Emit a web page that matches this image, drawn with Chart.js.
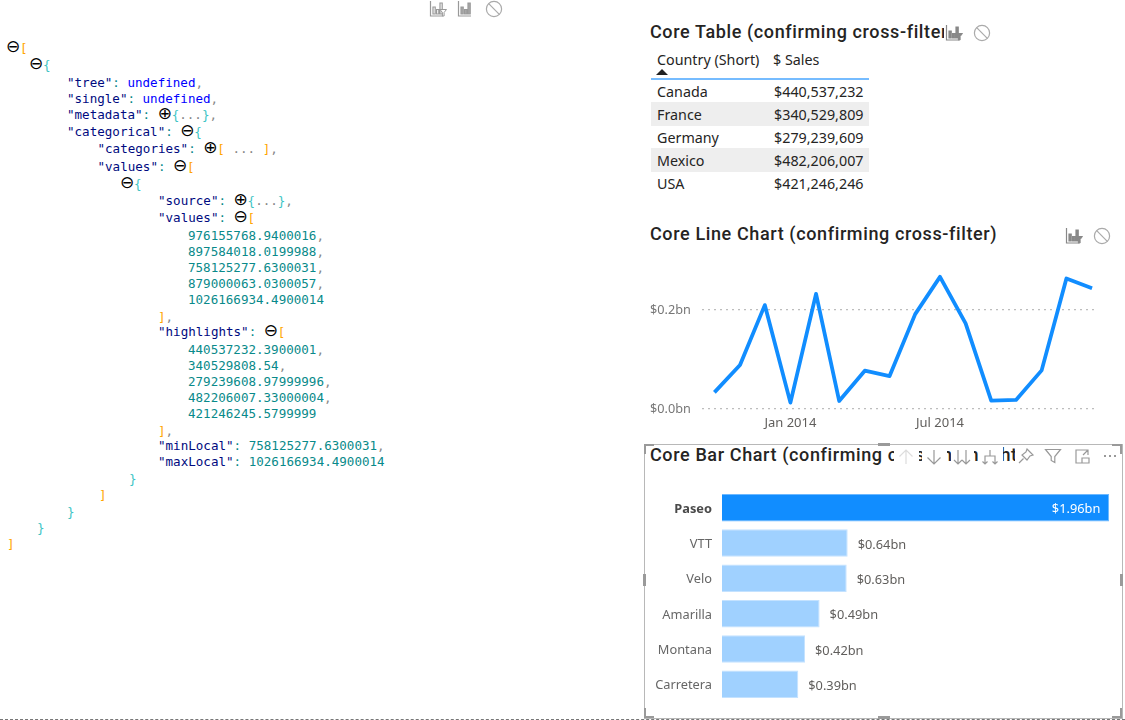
<!DOCTYPE html>
<html>
<head>
<meta charset="utf-8">
<title>Core visuals</title>
<script src="https://cdn.jsdelivr.net/npm/chart.js@4"></script>
<style>
html, body { margin: 0; background: #fff; width: 1125px; height: 720px; overflow: hidden; }
.abs { position: absolute; }
#json div { position: absolute; font: 12.55px/16px "DejaVu Sans Mono", monospace; white-space: pre; color: #888; }
.k { color: #000a80 } .u { color: #0000ff } .n { color: #098a8a } .sq { color: #ffa500 } .cu { color: #3cc4c4 }
.t { display: inline-block; width: 14px; color: #000; font: 17px/0 "DejaVu Sans"; text-align: center; }
.title { position: absolute; font: 500 18px/24px Roboto; letter-spacing: .62px; color: #252423; white-space: nowrap; overflow: hidden; }
.cell { position: absolute; font: 14.3px/22px "Noto Sans"; color: #252423; white-space: nowrap; }
.band { position: absolute; background: #eeeeee; left: 651px; width: 218px; }
.mask { position: absolute; background: #fff; }
canvas { position: absolute; }
.mark { position: absolute; background: #9a9a9a; }
</style>
</head>
<body>
<div id="json"></div>
<div id="table"></div>

<div class="title" style="left:650px;top:20px;width:294px">Core Table (confirming cross-filter)</div>
<div class="title" style="left:650px;top:222px">Core Line Chart (confirming cross-filter)</div>
<div class="title" style="left:650px;top:443px;width:365px">Core Bar Chart (confirming cross-highlight)</div>

<canvas id="lineChart" style="left:650px;top:250px"></canvas>
<canvas id="barChart" style="left:645px;top:480px"></canvas>

<!-- selected visual frame -->
<div class="abs" style="left:644px;top:444px;width:477px;height:273px;border:1px solid #b8b8b8"></div>
<div class="abs" style="left:0;top:719px;width:1125px;border-top:1px dashed #777"></div>
<div id="frameMarks"></div>
<div id="icons"></div>

<script>
// --- json panel text ---
const jsonText = [
    '⊖[', '⊖{',
    '"tree": undefined,', '"single": undefined,', '"metadata": ⊕{...},', '"categorical": ⊖{',
    '"categories": ⊕[ ... ],', '"values": ⊖[', '⊖{',
    '"source": ⊕{...},', '"values": ⊖[',
    '976155768.9400016,', '897584018.0199988,', '758125277.6300031,', '879000063.0300057,', '1026166934.4900014',
    '],', '"highlights": ⊖[',
    '440537232.3900001,', '340529808.54,', '279239608.97999996,', '482206007.33000004,', '421246245.5799999',
    '],', '"minLocal": 758125277.6300031,', '"maxLocal": 1026166934.4900014',
    '}', ']', '}', '}', ']',
]
const jsonLeft = [6, 29, 67, 67, 67, 67, 97.5, 97.5, 120, 158, 158, 188, 188, 188, 188, 188, 158, 158, 188, 188, 188, 188, 188, 158, 158, 158, 129, 99, 67, 37, 7]
const jsonMid = [48, 65, 83, 99, 115, 132, 149, 167, 184, 201, 218, 236, 252, 268, 284, 300, 317, 332, 350, 366, 382, 398, 414, 431, 446, 462, 479, 495, 512, 528, 544]

// --- table ---
const tableHeaders = ["Country (Short)", "$ Sales"]
const countries = ["Canada", "France", "Germany", "Mexico", "USA"]
const countrySales = ["$440,537,232", "$340,529,809", "$279,239,609", "$482,206,007", "$421,246,246"]

// --- line chart ---
const lineMonths = ["2013-10-01", "2013-11-01", "2013-12-01", "2014-01-01", "2014-02-01", "2014-03-01", "2014-04-01", "2014-05-01",
    "2014-06-01", "2014-07-01", "2014-08-01", "2014-09-01", "2014-10-01", "2014-11-01", "2014-12-01", "2015-01-01"]
const lineSales = [0.0324, 0.0878, 0.2095, 0.0115, 0.2324, 0.0149, 0.0764, 0.0655, 0.1912, 0.2669, 0.1723, 0.0155, 0.0169, 0.077, 0.2635, 0.2439]
const lineYTicks = [0, 0.2]
const lineYLabels = ["$0.0bn", "$0.2bn"]
const lineXTicks = ["2014-01-01", "2014-07-01"]
const lineXLabels = ["Jan 2014", "Jul 2014"]

// --- bar chart ---
const products = ["Paseo", "VTT", "Velo", "Amarilla", "Montana", "Carretera"]
const productSales = [1.96, 0.636, 0.631, 0.494, 0.42, 0.386]
const productLabels = ["$1.96bn", "$0.64bn", "$0.63bn", "$0.49bn", "$0.42bn", "$0.39bn"]


function esc(s) {
    return s.replace(/&/g, "&amp;")
}

// colours the json line the same way the viewer does
function paintJson(line) {
    return esc(line).replace(/"[^"]*"|undefined|\d+\.\d+|[⊖⊕]|[\[\]]|[{}]|:/g, tok => {
        if (tok[0] === '"') return `<span class="k">${tok}</span>`
        if (tok === "undefined") return `<span class="u">${tok}</span>`
        if (tok === "⊖" || tok === "⊕") return `<span class="t">${tok}</span>`
        if (tok === "[" || tok === "]") return `<span class="sq">${tok}</span>`
        if (tok === "{" || tok === "}") return `<span class="cu">${tok}</span>`
        return `<span class="n">${tok}</span>`
    })
}

const jsonEl = document.querySelector("#json")
jsonText.forEach((line, i) => {
    const d = document.createElement("div")
    d.style.left = jsonLeft[i] + "px"
    d.style.top = (jsonMid[i] - 8) + "px"
    d.innerHTML = paintJson(line)
    jsonEl.appendChild(d)
})


// table is plain html, no need for a chart here
const bandTops = [102, 148]
const rowMids = [92, 115, 138, 161, 184]
const tableEl = document.querySelector("#table")
let tableHtml = ""
bandTops.forEach(t => {
    tableHtml += `<div class="band" style="top:${t}px;height:23.5px"></div>`
})
tableHtml += `<div class="cell" style="left:657px;top:49px">${tableHeaders[0]}</div>`
tableHtml += `<div class="cell" style="left:773px;top:49px">${tableHeaders[1]}</div>`
tableHtml += `<svg class="abs" style="left:656px;top:69px" width="12" height="7"><path d="M6 0 12 6H0z" fill="#222"/></svg>`
tableHtml += `<div class="abs" style="left:651px;top:78px;width:218px;height:2px;background:#76bcff"></div>`
countries.forEach((c, i) => {
    tableHtml += `<div class="cell" style="left:657px;top:${rowMids[i] - 11}px">${c}</div>`
    tableHtml += `<div class="cell" style="right:${1125 - 863.5}px;top:${rowMids[i] - 11}px">${countrySales[i]}</div>`
})
tableEl.innerHTML = tableHtml


Chart.defaults.font.family = "'Noto Sans'"
Chart.defaults.animation = false
Chart.defaults.responsive = false
Chart.defaults.plugins.legend.display = false
Chart.defaults.plugins.tooltip.enabled = false

const lineCanvas = document.querySelector("#lineChart")
lineCanvas.width = 470
lineCanvas.height = 190
lineCanvas.style.width = "470px"
lineCanvas.style.height = "190px"

new Chart(lineCanvas, {
    type: "line",
    data: {
        datasets: [{
            data: lineMonths.map((m, i) => ({ x: Date.parse(m), y: lineSales[i] })),
            borderColor: "#118dff",
            borderWidth: 3.8,
            borderJoinStyle: "round",
            pointRadius: 0,
            tension: 0,
            clip: false,
        }]
    },
    options: {
        layout: { padding: { top: 12, right: 23 } },
        scales: {
            x: {
                type: "linear",
                min: Date.parse("2013-09-16"),
                max: Date.parse("2015-01-07"),
                afterBuildTicks: scale => { scale.ticks = lineXTicks.map(t => ({ value: Date.parse(t) })) },
                afterFit: scale => { scale.height = 31.7 },
                grid: { display: false },
                border: { display: false },
                ticks: {
                    autoSkip: false,
                    maxRotation: 0,
                    padding: -1,
                    color: "#605e5c",
                    font: { size: 13 },
                    callback: v => lineXLabels[lineXTicks.findIndex(t => Date.parse(t) === v)],
                },
            },
            y: {
                min: 0,
                max: 0.297,
                afterBuildTicks: scale => { scale.ticks = lineYTicks.map(v => ({ value: v })) },
                afterFit: scale => { scale.width = 52 },
                grid: { color: "#bdbdbd", lineWidth: 1.2, drawTicks: false },
                border: { display: false, dash: [2, 4] },
                ticks: {
                    crossAlign: "far",
                    labelOffset: 1,
                    color: "#777",
                    font: { size: 12.7 },
                    callback: v => lineYLabels[lineYTicks.indexOf(v)],
                },
            },
        },
    },
})


// value labels next to the bars
const barValueLabels = {
    id: "barValueLabels",
    afterDatasetsDraw(chart) {
        const { ctx } = chart
        ctx.save()
        ctx.font = "12.8px 'Noto Sans'"
        ctx.textBaseline = "middle"
        chart.getDatasetMeta(0).data.forEach((bar, i) => {
            if (i === 0) {
                ctx.textAlign = "right"
                ctx.fillStyle = "#ffffff"
                ctx.fillText(productLabels[i], bar.x - 9, bar.y + 2)
            } else {
                ctx.textAlign = "left"
                ctx.fillStyle = "#605e5c"
                ctx.fillText(productLabels[i], bar.x + 10, bar.y + 2)
            }
        })
        ctx.restore()
    }
}

const barCanvas = document.querySelector("#barChart")
barCanvas.width = 475
barCanvas.height = 230
barCanvas.style.width = "475px"
barCanvas.style.height = "230px"

new Chart(barCanvas, {
    type: "bar",
    plugins: [barValueLabels],
    data: {
        labels: products,
        datasets: [{
            data: productSales,
            backgroundColor: products.map((p, i) => i === 0 ? "#118dff" : "#a0d1ff"),
            borderColor: products.map((p, i) => i === 0 ? "#6cb8ff" : "#c4e2ff"),
            borderWidth: 1,
            categoryPercentage: 1,
            barPercentage: 0.78,
        }]
    },
    options: {
        indexAxis: "y",
        layout: { padding: { top: 10, right: 10.7, bottom: 8 } },
        scales: {
            x: { display: false, min: 0, max: 1.96 },
            y: {
                afterFit: scale => {
                    // chart.js reserves room for the first/last label otherwise, bars come out too thin
                    scale.width = 77
                    scale.paddingTop = 0
                    scale.paddingBottom = 0
                },
                grid: { display: false, drawTicks: false },
                border: { display: false },
                ticks: {
                    padding: 10,
                    labelOffset: 1.5,
                    color: ctx => ctx.index === 0 ? "#4a4a4a" : "#666",
                    font: ctx => ctx.index === 0 ? { size: 12.8, weight: "bold" } : { size: 12.8 },
                },
            },
        },
    },
})


// little handles around the selected visual
const frameMarks = [
    [644, 444, 10, 2], [644, 444, 2, 10], [1112, 444, 10, 2], [1120, 444, 2, 10],
    [644, 716, 10, 2], [644, 708, 2, 10], [1112, 716, 10, 2], [1120, 708, 2, 10],
    [878, 443, 12, 3], [878, 716, 12, 3], [643, 574, 3, 12], [1120, 574, 3, 12],
]
document.querySelector("#frameMarks").innerHTML = frameMarks.map(m =>
    `<div class="mark" style="left:${m[0]}px;top:${m[1]}px;width:${m[2]}px;height:${m[3]}px"></div>`).join("")


// header icons
const bars = w => `<path d="M1.5 1v15H14"/><path d="M4 14V7h2.2v7zM7.6 14V9.5h2.2V14zM11 14V3h2.2v11z" ${w}/>`
const funnel = f => `<path d="M11 9.5h6.5l-2.4 3v3.5h-1.7v-3.5z" fill="${f}" stroke-width="1"/>`
const ICONS = {
    none: '<circle cx="9" cy="9" r="7.6"/><path d="M3.7 3.7 14.3 14.3"/>',
    filterLight: bars('') + funnel("#fff"),
    filterDark: bars('fill="#888"') + funnel("#888"),
    bars: bars('fill="#aaa"'),
    up: '<path d="M9 16V2M2.5 8.5 9 2l6.5 6.5"/>',
    down: '<path d="M9 2v14M2.5 9.5 9 16l6.5-6.5"/>',
    downDown: '<path d="M5 2v14M1 12l4 4 4-4M13 2v14M9 12l4 4 4-4"/>',
    fork: '<path d="M9 2v6M4 16V8h10v8M1.5 13.5 4 16l2.5-2.5M11.5 13.5 14 16l2.5-2.5"/>',
    pin: '<path d="M10 2l6 6-3 1-3 4-5-5 4-3zM6.5 11.5 2 16"/>',
    filter: '<path d="M1.5 2.5h15l-5.7 7v6l-3.6 -2v-4z"/>',
    focus: '<path d="M15 8V3H3v13h13v-5H9v5M10 8l5-5M11 3h4v4"/>',
    more: '<path d="M3 9h2M8 9h2M13 9h2" stroke-width="2"/>',
}
// name, centre x, centre y, stroke colour, width of the white box behind it (0 = none)
const iconSpots = [
    ["filterLight", 438, 9, "#999", 0], ["bars", 466, 9, "#999", 0], ["none", 494, 9, "#aaa", 0],
    ["filterDark", 954, 33, "#888", 20], ["none", 982, 33, "#aaa", 0],
    ["filterDark", 1074, 236, "#888", 0], ["none", 1102, 236, "#aaa", 0],
    ["up", 906, 457, "#ddd", 25], ["down", 934, 457, "#999", 25], ["downDown", 962, 457, "#999", 23], ["fork", 990, 457, "#999", 25],
    ["pin", 1026, 456, "#999", 0], ["filter", 1053, 456, "#999", 0], ["focus", 1082, 456, "#999", 0], ["more", 1110, 456, "#999", 0],
]
document.querySelector("#icons").innerHTML = iconSpots.map(([name, x, y, color, box]) => {
    const mask = box ? `<div class="mask" style="left:${x - box / 2}px;top:${y - 12}px;width:${box}px;height:24px"></div>` : ""
    return mask + `<svg class="abs" style="left:${x - 9}px;top:${y - 9}px" width="18" height="18" fill="none" stroke="${color}" stroke-width="1.2">${ICONS[name]}</svg>`
}).join("")
</script>
</body>
</html>
